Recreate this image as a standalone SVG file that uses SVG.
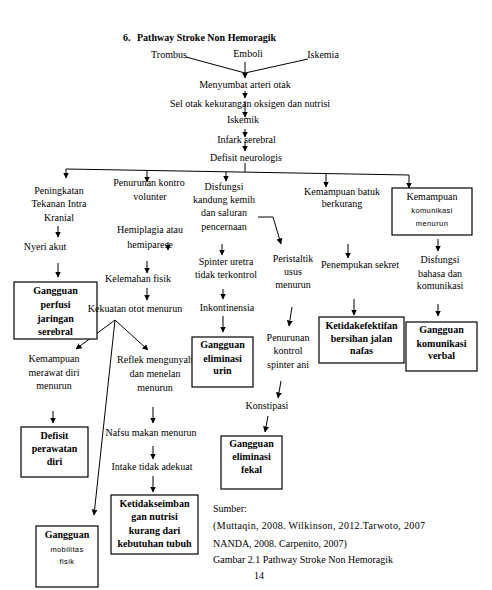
<svg xmlns="http://www.w3.org/2000/svg" width="492" height="590" viewBox="0 0 492 590">
<style>
text{font-family:"Liberation Serif","Times New Roman",serif;font-size:10px;fill:#000}
.c{text-anchor:middle}
.b{font-weight:bold}
.s{font-family:"Liberation Sans",Arial,sans-serif;font-size:7.5px;letter-spacing:0.4px}
.box{fill:#fff;stroke:#000;stroke-width:1.2}
.ln{stroke:#000;stroke-width:1;fill:none}
.ar{stroke:#000;stroke-width:1;fill:none;marker-end:url(#ah)}
</style>
<defs>
<marker id="ah" markerUnits="userSpaceOnUse" markerWidth="6" markerHeight="7" refX="5.5" refY="3" orient="auto">
<path d="M0,0 L6,3 L0,6 z" fill="#000"/>
</marker>
</defs>
<rect width="492" height="590" fill="#fff"/>

<g id="title">
<text x="123" y="41" class="b">6.</text>
<text x="137" y="41" class="b">Pathway Stroke Non Hemoragik</text>
</g>

<g id="connectors">
<line class="ln" x1="186" y1="57" x2="245" y2="73"/>
<line class="ln" x1="308" y1="59" x2="245" y2="73"/>
<line class="ar" x1="245" y1="62" x2="245" y2="78"/>
<line class="ar" x1="245" y1="91" x2="245" y2="98"/>
<line class="ar" x1="245" y1="101" x2="245" y2="117"/>
<line class="ar" x1="245" y1="129" x2="245" y2="137"/>
<line class="ar" x1="245" y1="141" x2="245" y2="151"/>
<line class="ln" x1="245" y1="163" x2="245" y2="172"/>
<line class="ln" x1="66" y1="169" x2="409" y2="175"/>
<line class="ar" x1="66" y1="169" x2="66" y2="178"/>
<line class="ar" x1="147" y1="170.4" x2="147" y2="182"/>
<line class="ar" x1="226" y1="171.8" x2="226" y2="181"/>
<line class="ar" x1="326" y1="173.5" x2="326" y2="187"/>
<line class="ar" x1="409" y1="175" x2="409" y2="188"/>
<line class="ar" x1="58" y1="226" x2="58" y2="237"/>
<line class="ar" x1="58" y1="263" x2="58" y2="277"/>
<line class="ar" x1="168" y1="242" x2="168" y2="250"/>
<line class="ar" x1="147" y1="261" x2="147" y2="273"/>
<line class="ar" x1="147" y1="288" x2="147" y2="300"/>
<line class="ar" x1="115" y1="320" x2="76" y2="349"/>
<line class="ar" x1="115" y1="320" x2="148" y2="350"/>
<line class="ar" x1="115" y1="320" x2="94" y2="515"/>
<line class="ar" x1="53" y1="411" x2="53" y2="423"/>
<line class="ar" x1="153" y1="407" x2="153" y2="423"/>
<line class="ar" x1="153" y1="446" x2="153" y2="459"/>
<line class="ar" x1="153" y1="476" x2="153" y2="492"/>
<polyline class="ar" points="258,217 273,217 281,244"/>
<line class="ar" x1="222" y1="244" x2="222" y2="255"/>
<line class="ar" x1="223" y1="289" x2="223" y2="299"/>
<line class="ar" x1="223" y1="316" x2="223" y2="332"/>
<line class="ar" x1="292" y1="307" x2="289" y2="326"/>
<line class="ar" x1="281" y1="381" x2="278" y2="398"/>
<line class="ar" x1="268" y1="416" x2="265" y2="432"/>
<line class="ar" x1="348" y1="244" x2="348" y2="258"/>
<line class="ar" x1="354" y1="299" x2="354" y2="315"/>
<line class="ar" x1="438" y1="239" x2="438" y2="251"/>
<line class="ar" x1="438" y1="304" x2="438" y2="316"/>
</g>

<g id="trombus"><text x="169" y="58" class="c">Trombus</text></g>
<g id="emboli"><text x="248" y="57" class="c">Emboli</text></g>
<g id="iskemia"><text x="323" y="58" class="c">Iskemia</text></g>
<g id="menyumbat"><text x="245" y="88" class="c">Menyumbat arteri otak</text></g>
<g id="sel-otak"><text x="250" y="107" class="c">Sel otak kekurangan oksigen dan nutrisi</text></g>
<g id="iskemik"><text x="243" y="123" class="c">Iskemik</text></g>
<g id="infark"><text x="246.5" y="143" class="c">Infark serebral</text></g>
<g id="defisit-neuro"><text x="246" y="161" class="c">Defisit neurologis</text></g>

<g id="tik">
<text x="59" y="194" class="c">Peningkatan</text>
<text x="59" y="207" class="c">Tekanan Intra</text>
<text x="59" y="221" class="c">Kranial</text>
</g>
<g id="nyeri"><text x="45" y="250" class="c">Nyeri akut</text></g>
<g id="perfusi">
<rect class="box" x="14" y="282" width="83" height="57"/>
<text x="55.5" y="294" class="c b">Gangguan</text>
<text x="55.5" y="308" class="c b">perfusi</text>
<text x="55.5" y="322" class="c b">jaringan</text>
<text x="55.5" y="335" class="c b">serebral</text>
</g>

<g id="penurunan-kontrol">
<text x="149" y="186" class="c">Penurunan kontro</text>
<text x="150" y="200" class="c">volunter</text>
</g>
<g id="hemiplagia">
<text x="150" y="233" class="c">Hemiplagia atau</text>
<text x="150" y="248" class="c">hemiparese</text>
</g>
<g id="kelemahan"><text x="138" y="282" class="c">Kelemahan fisik</text></g>
<g id="kekuatan"><text x="135" y="312" class="c">Kekuatan otot menurun</text></g>

<g id="merawat">
<text x="54" y="362" class="c">Kemampuan</text>
<text x="54" y="376" class="c">merawat diri</text>
<text x="54" y="389" class="c">menurun</text>
</g>
<g id="defisit-perawatan">
<rect class="box" x="21" y="427" width="67" height="50"/>
<text x="54.5" y="439" class="c b">Defisit</text>
<text x="54.5" y="452" class="c b">perawatan</text>
<text x="54.5" y="465" class="c b">diri</text>
</g>

<g id="reflek">
<text x="155" y="363" class="c">Reflek mengunyah</text>
<text x="155" y="377" class="c">dan menelan</text>
<text x="155" y="391" class="c">menurun</text>
</g>
<g id="nafsu"><text x="151" y="436" class="c">Nafsu makan  menurun</text></g>
<g id="intake"><text x="152" y="470" class="c">Intake tidak adekuat</text></g>
<g id="nutrisi">
<rect class="box" x="111" y="495" width="87" height="59"/>
<text x="154.5" y="507" class="c b">Ketidakseimban</text>
<text x="154.5" y="520" class="c b">gan nutrisi</text>
<text x="154.5" y="534" class="c b">kurang dari</text>
<text x="154.5" y="547" class="c b">kebutuhan tubuh</text>
</g>

<g id="mobilitas">
<rect class="box" x="36" y="526" width="62" height="61"/>
<text x="67" y="538" class="c b">Gangguan</text>
<text x="67" y="552" class="c s">mobilitas</text>
<text x="67" y="564" class="c s">fisik</text>
</g>

<g id="disfungsi-kandung">
<text x="224" y="190" class="c">Disfungsi</text>
<text x="224" y="203" class="c">kandung kemih</text>
<text x="224" y="216" class="c">dan saluran</text>
<text x="224" y="230" class="c">pencernaan</text>
</g>
<g id="spinter-uretra">
<text x="226" y="265" class="c">Spinter uretra</text>
<text x="226" y="278" class="c">tidak terkontrol</text>
</g>
<g id="inkontinensia"><text x="227" y="311" class="c">Inkontinensia</text></g>
<g id="eliminasi-urin">
<rect class="box" x="192" y="337" width="61" height="50"/>
<text x="222.5" y="348" class="c b">Gangguan</text>
<text x="222.5" y="362" class="c b">eliminasi</text>
<text x="222.5" y="374" class="c b">urin</text>
</g>

<g id="peristaltik">
<text x="293" y="262" class="c">Peristaltik</text>
<text x="293" y="275" class="c">usus</text>
<text x="293" y="288" class="c">menurun</text>
</g>
<g id="spinter-ani">
<text x="288" y="341" class="c">Penurunan</text>
<text x="288" y="354" class="c">kontrol</text>
<text x="288" y="368" class="c">spinter ani</text>
</g>
<g id="konstipasi"><text x="267" y="409" class="c">Konstipasi</text></g>
<g id="eliminasi-fekal">
<rect class="box" x="221" y="436" width="61" height="53"/>
<text x="251.5" y="447" class="c b">Gangguan</text>
<text x="251.5" y="460" class="c b">eliminasi</text>
<text x="251.5" y="473" class="c b">fekal</text>
</g>

<g id="batuk">
<text x="342" y="195" class="c">Kemampuan batuk</text>
<text x="342" y="207" class="c">berkurang</text>
</g>
<g id="sekret"><text x="360" y="268" class="c">Penempukan sekret</text></g>
<g id="jalan-nafas">
<rect class="box" x="319" y="317" width="85" height="46"/>
<text x="361.5" y="329" class="c b">Ketidakefektifan</text>
<text x="361.5" y="342" class="c b">bersihan jalan</text>
<text x="361.5" y="354" class="c b">nafas</text>
</g>

<g id="komunikasi-menurun">
<rect class="box" x="392" y="188" width="80" height="47"/>
<text x="432" y="200" class="c">Kemampuan</text>
<text x="432" y="213" class="c s">komunikasi</text>
<text x="432" y="226" class="c s">menurun</text>
</g>
<g id="disfungsi-bahasa">
<text x="440" y="263" class="c">Disfungsi</text>
<text x="440" y="277" class="c">bahasa dan</text>
<text x="440" y="289" class="c">komunikasi</text>
</g>
<g id="komunikasi-verbal">
<rect class="box" x="406" y="322" width="71" height="49"/>
<text x="441.5" y="333" class="c b">Gangguan</text>
<text x="441.5" y="347" class="c b">komunikasi</text>
<text x="441.5" y="359" class="c b">verbal</text>
</g>

<g id="sumber">
<text x="213" y="512">Sumber:</text>
<text x="213" y="529" textLength="212" lengthAdjust="spacing">(Muttaqin,  2008.  Wilkinson,  2012.Tarwoto,  2007</text>
<text x="213" y="547">NANDA, 2008. Carpenito, 2007)</text>
<text x="213" y="563">Gambar 2.1 Pathway Stroke Non Hemoragik</text>
<text x="254" y="579">14</text>
</g>
</svg>
